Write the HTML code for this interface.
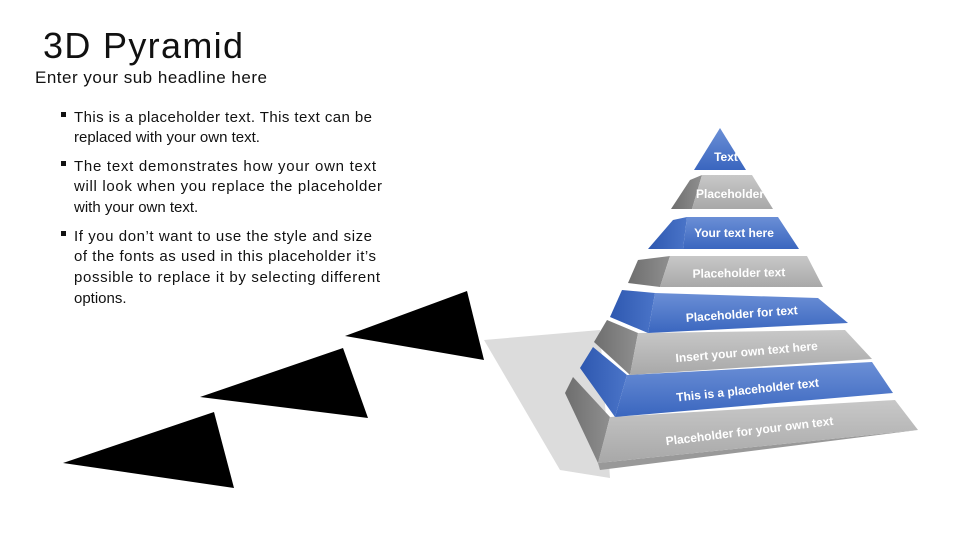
<!DOCTYPE html>
<html><head><meta charset="utf-8"><style>
html,body{margin:0;padding:0;background:#fff;width:960px;height:540px;overflow:hidden}
svg{display:block}
.t{font-family:"Liberation Sans",sans-serif;fill:#111}
.b{font-size:15px}
.l{font-family:"Liberation Sans",sans-serif;font-weight:bold;fill:#fff;font-size:12px}
</style></head><body>
<svg width="960" height="540" viewBox="0 0 960 540">
<defs>
<linearGradient id="bl" x1="0" y1="0" x2="0" y2="1"><stop offset="0" stop-color="#6b8fd6"/><stop offset="1" stop-color="#3a66bf"/></linearGradient>
<linearGradient id="bls" x1="0" y1="0" x2="1" y2="0"><stop offset="0" stop-color="#2e58b0"/><stop offset="1" stop-color="#4a74c8"/></linearGradient>
<linearGradient id="gr" x1="0" y1="0" x2="0" y2="1"><stop offset="0" stop-color="#c8c8c8"/><stop offset="1" stop-color="#a8a8a8"/></linearGradient>
<linearGradient id="grs" x1="0" y1="0" x2="1" y2="0"><stop offset="0" stop-color="#6e6e6e"/><stop offset="1" stop-color="#8f8f8f"/></linearGradient>
</defs>
<text class="t" x="43" y="58" font-size="36" textLength="200">3D Pyramid</text>
<text class="t" x="35" y="83" font-size="17" textLength="232">Enter your sub headline here</text>
<g class="t b">
<rect x="61" y="112" width="5" height="5" fill="#111"/>
<text x="74" y="122" textLength="298">This is a placeholder text. This text can be</text>
<text x="74" y="142">replaced with your own text.</text>
<rect x="61" y="161" width="5" height="5" fill="#111"/>
<text x="74" y="171" textLength="302">The text demonstrates how your own text</text>
<text x="74" y="191" textLength="308">will look when you replace the placeholder</text>
<text x="74" y="212">with your own text.</text>
<rect x="61" y="231" width="5" height="5" fill="#111"/>
<text x="74" y="241" textLength="298">If you don’t want to use the style and size</text>
<text x="74" y="261" textLength="302">of the fonts as used in this placeholder it’s</text>
<text x="74" y="282" textLength="306">possible to replace it by selecting different</text>
<text x="74" y="303">options.</text>
</g>
<polygon points="345,336 467,291 484,360" fill="#000"/>
<polygon points="200,397 343,348 368,418" fill="#000"/>
<polygon points="63,463 214,412 234,488" fill="#000"/>
<polygon points="484,340 600,330 610,478 560,470" fill="#dcdcdc"/>
<!-- tier 8 -->
<polygon points="573,377 610,417 598,463 565,393" fill="url(#grs)"/>
<polygon points="598,463 600,470 918,430" fill="#999"/>
<polygon points="610,417 895,400 918,430 598,463" fill="url(#gr)"/>
<!-- tier 7 -->
<polygon points="593,347 627,375 615,417 580,368" fill="url(#bls)"/>
<polygon points="627,375 872,362 893,393 615,417" fill="url(#bl)"/>
<!-- tier 6 -->
<polygon points="607,320 638,333 630,375 594,342" fill="url(#grs)"/>
<polygon points="638,333 845,330 872,359 630,375" fill="url(#gr)"/>
<!-- tier 5 -->
<polygon points="622,290 655,293 648,333 610,317" fill="url(#bls)"/>
<polygon points="655,293 818,298 848,323 648,333" fill="url(#bl)"/>
<!-- tier 4 -->
<polygon points="638,260 670,256 660,287 628,283" fill="url(#grs)"/>
<polygon points="670,256 807,256 823,287 660,287" fill="url(#gr)"/>
<!-- tier 3 -->
<polygon points="673,220 687,217 683,249 648,249" fill="url(#bls)"/>
<polygon points="687,217 778,217 799,249 683,249" fill="url(#bl)"/>
<!-- tier 2 -->
<polygon points="690,180 702,175 692,209 671,209" fill="url(#grs)"/>
<polygon points="702,175 752,175 773,209 692,209" fill="url(#gr)"/>
<!-- top -->
<polygon points="720,128 694,170 746,170" fill="url(#bl)"/>
<text class="l" x="726" y="161" text-anchor="middle" font-size="11">Text</text>
<text class="l" x="730" y="198" text-anchor="middle" font-size="11">Placeholder</text>
<text class="l" x="734" y="237" text-anchor="middle">Your text here</text>
<text class="l" x="739" y="277" text-anchor="middle" transform="rotate(-1 739 277)">Placeholder text</text>
<text class="l" x="742" y="318" text-anchor="middle" transform="rotate(-4 742 318)">Placeholder for text</text>
<text class="l" x="747" y="356" text-anchor="middle" transform="rotate(-5 747 356)">Insert your own text here</text>
<text class="l" x="748" y="394" text-anchor="middle" transform="rotate(-6 748 394)">This is a placeholder text</text>
<text class="l" x="750" y="435" text-anchor="middle" transform="rotate(-7 750 435)">Placeholder for your own text</text>
</svg>
</body></html>
